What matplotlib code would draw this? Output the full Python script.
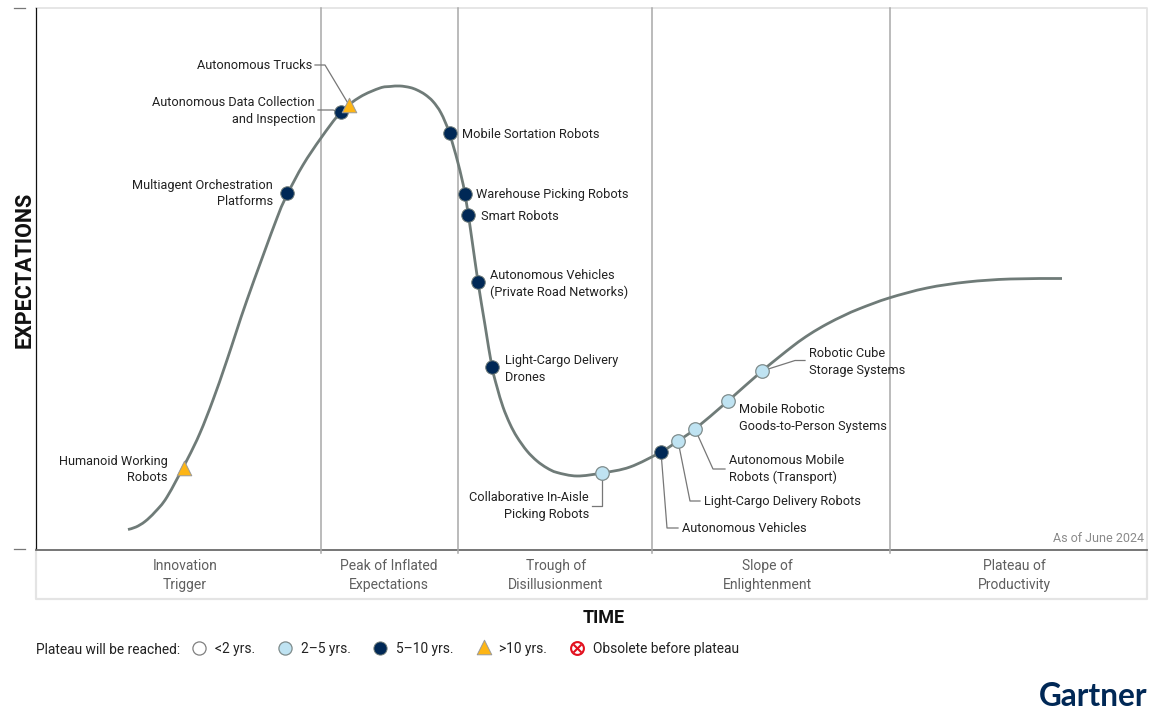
import matplotlib
matplotlib.use('Agg')
import matplotlib.pyplot as plt
from matplotlib.path import Path
from matplotlib.patches import PathPatch

plt.rcParams['font.family'] = ['Roboto', 'DejaVu Sans']

# curve (x = time, y = expectations, both in picture units)
curve_x = [128, 136, 145, 155, 167, 187, 200, 213, 227, 247, 277, 288, 303, 321, 341, 360, 380, 390, 400, 410,
           417, 425, 433, 441, 449, 458, 465, 472, 478, 485, 492, 497, 503, 510, 517, 527, 537, 547, 557, 577,
           602, 630, 661, 678, 695, 728, 762, 793, 810, 827, 844, 860, 889, 927, 967, 1010, 1062]
curve_y = [529.5, 527, 521.5, 512, 497, 460, 433, 400, 360, 300, 218, 193, 165, 138, 112, 97, 88, 86.5, 86, 87.5,
           90, 94.5, 101.5, 113, 132, 163, 194, 240, 282, 325, 367, 387, 407, 424, 437, 451, 461, 468, 472.5, 476,
           473, 467, 452, 441, 429, 401, 371, 346, 334, 324, 315.5, 308.5, 298, 288, 282, 279, 278.5]

# dots on the curve
dark_x = [287, 341, 450, 465, 468, 478, 492, 661]
dark_y = [193, 112, 133, 194, 215, 282, 367, 452]
light_x = [602, 678, 695, 728, 762]
light_y = [473, 441, 429, 401, 371]
tri_x = [184, 349]
tri_y = [468, 105]

phase_edges = [321, 458, 652, 890]
phase_names = ['Innovation\nTrigger', 'Peak of Inflated\nExpectations', 'Trough of\nDisillusionment',
               'Slope of\nEnlightenment', 'Plateau of\nProductivity']
phase_x = [185, 388.5, 556, 767, 1014.5]

# label text, x, y, horizontal alignment
labels = ['Autonomous Trucks', 'Autonomous Data Collection\nand Inspection', 'Multiagent Orchestration\nPlatforms',
          'Humanoid Working\nRobots', 'Mobile Sortation Robots', 'Warehouse Picking Robots', 'Smart Robots',
          'Autonomous Vehicles\n(Private Road Networks)', 'Light-Cargo Delivery\nDrones',
          'Collaborative In-Aisle\nPicking Robots', 'Autonomous Vehicles', 'Light-Cargo Delivery Robots',
          'Autonomous Mobile\nRobots (Transport)', 'Mobile Robotic\nGoods-to-Person Systems',
          'Robotic Cube\nStorage Systems']
label_x = [312, 315, 273, 168, 462, 476, 481, 490, 505, 589, 682, 704, 729, 739, 809]
label_y = [65.5, 111, 193.5, 469.5, 134.5, 194.5, 216, 284, 369, 506, 528, 501, 469, 418, 362]
label_ha = ['right', 'right', 'right', 'right', 'left', 'left', 'left', 'left', 'left', 'right', 'left', 'left',
            'left', 'left', 'left']

# leader lines
leaders_x = [[315, 325, 349], [318, 333, 341], [592, 602, 602], [661, 667, 678], [678, 690, 700], [695, 713, 725],
             [762, 795, 805]]
leaders_y = [[65, 65, 105], [110, 110, 112], [506, 506, 473], [452, 528, 528], [441, 501, 501], [429, 469, 469],
             [371, 360.5, 360.5]]

legend_text = ['Plateau will be reached:', '<2 yrs.', '2\u20135 yrs.', '5\u201310 yrs.', '>10 yrs.',
               'Obsolete before plateau']
legend_text_x = [36, 215, 301, 396, 499, 593]
legend_mark_x = [199, 285, 380, 484, 577]

NAVY = '#002856'
LIGHT = '#bfe3f2'
AMBER = '#fdb515'
CURVE = '#6f7b78'
FRAME = '#e4e4e4'


def smooth_path(xs, ys):
    # bezier through the read points, so the curve has no corners
    verts = [(xs[0], ys[0])]
    codes = [Path.MOVETO]
    n = len(xs)
    for i in range(n - 1):
        a = max(i - 1, 0)
        d = min(i + 2, n - 1)
        verts.append((xs[i] + (xs[i + 1] - xs[a]) / 6, ys[i] + (ys[i + 1] - ys[a]) / 6))
        verts.append((xs[i + 1] - (xs[d] - xs[i]) / 6, ys[i + 1] - (ys[d] - ys[i]) / 6))
        verts.append((xs[i + 1], ys[i + 1]))
        codes += [Path.CURVE4, Path.CURVE4, Path.CURVE4]
    return Path(verts, codes)


fig = plt.figure(figsize=(11.7, 7.2), dpi=100)
bg = fig.add_axes([0, 0, 1, 1])
bg.set_xlim(0, 1170)
bg.set_ylim(720, 0)
bg.axis('off')

# phase strip below the chart
bg.plot([36, 36, 1147, 1147], [549, 599, 599, 549], color=FRAME, lw=1.6, zorder=1)
for n, x in zip(phase_names, phase_x):
    bg.text(x, 575.5, n, ha='center', va='center', fontsize=10, color='#5f5f5f', linespacing=1.4)

# main plot frame
bg.plot([36, 1147, 1147], [8, 8, 549], color=FRAME, lw=1.3, zorder=1)
bg.plot([36, 36], [8, 549], color='#111111', lw=0.9, zorder=2)
bg.plot([36, 1147], [549.5, 549.5], color='#6b6b6b', lw=1.3, zorder=2)
bg.plot([14, 25], [8, 8], color='#777777', lw=0.9)
bg.plot([14, 25], [549, 549], color='#777777', lw=0.9)
for x in phase_edges:
    bg.plot([x, x], [8, 553], color='#a8a8a8', lw=1.1, zorder=2)

bg.add_patch(PathPatch(smooth_path(curve_x, curve_y), fill=False, edgecolor=CURVE, lw=2.0, zorder=3))

for lx, ly in zip(leaders_x, leaders_y):
    bg.plot(lx, ly, color='#777777', lw=0.9, zorder=3.5)

bg.scatter(dark_x, dark_y, s=95, color=NAVY, edgecolor='#6f7b78', linewidth=0.7, zorder=5)
bg.scatter(light_x, light_y, s=95, color=LIGHT, edgecolor='#7f8c8c', linewidth=0.9, zorder=5)
bg.scatter(tri_x, tri_y, s=110, marker='^', color=AMBER, edgecolor='#9a9a9a', linewidth=0.7, zorder=6)

for t, x, y, ha in zip(labels, label_x, label_y, label_ha):
    bg.text(x, y, t, ha=ha, va='center', fontsize=9.15, color='#222222', linespacing=1.37, zorder=7, multialignment=ha)

bg.text(1144, 538.5, 'As of June 2024', ha='right', va='center', fontsize=9, color='#8a8a8a')
bg.text(25, 270, 'EXPECTATIONS', rotation=90, ha='center', va='center', fontsize=15.5, fontweight='bold', color='#111111')
bg.text(603.5, 618, 'TIME', ha='center', va='center', fontsize=13, fontweight='bold', color='#111111')

# legend
for t, x in zip(legend_text, legend_text_x):
    bg.text(x, 649.5, t, ha='left', va='center', fontsize=9.9, color='#222222')
bg.scatter(legend_mark_x[0], 648, s=90, color='white', edgecolor='#808080', linewidth=0.9)
bg.scatter(legend_mark_x[1], 648, s=90, color=LIGHT, edgecolor='#7f8c8c', linewidth=0.9)
bg.scatter(legend_mark_x[2], 648, s=90, color=NAVY, edgecolor='#6f7b78', linewidth=0.7)
bg.scatter(legend_mark_x[3], 647, s=110, marker='^', color=AMBER, edgecolor='#9a9a9a', linewidth=0.7)
bg.scatter(legend_mark_x[4], 648, s=85, color='white', edgecolor='#e2101e', linewidth=1.5)
bg.scatter(legend_mark_x[4], 648, s=32, marker='x', color='#e2101e', linewidth=1.5)

bg.text(1148, 696.5, 'Gartner', ha='right', va='center', fontsize=22.7, fontweight='bold', color=NAVY,
        family=['Lato', 'DejaVu Sans'])

fig.savefig('out.png', dpi=100)
